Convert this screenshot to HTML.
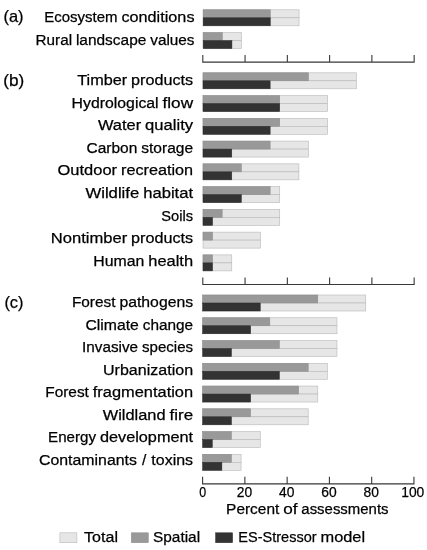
<!DOCTYPE html>
<html lang="en"><head><meta charset="utf-8"><title>Percent of assessments</title>
<style>
html,body{margin:0;padding:0;background:#fff;}
body{width:427px;height:550px;overflow:hidden;}
svg{display:block;}
text{font-family:"Liberation Sans",sans-serif;fill:#000;stroke:#000;stroke-width:0.25px;}
.l{font-size:15.4px;}
.t{font-size:15.4px;}
.s{font-size:16.5px;}
.tot{fill:#e6e6e6;stroke:#b8b8b8;stroke-width:0.6;}
.spa{fill:#999999;stroke:#8a8a8a;stroke-width:0.5;}
.mod{fill:#333333;stroke:#2b2b2b;stroke-width:0.5;}
.ax{fill:none;stroke:#383838;stroke-width:1.1;}
</style></head><body>
<svg width="427" height="550" viewBox="0 0 427 550">
<rect width="427" height="550" fill="#ffffff"/>
<g>
<text class="s" x="3.50" y="22.30" textLength="20.09" lengthAdjust="spacingAndGlyphs">(a)</text>
<text class="l" y="22.20"><tspan x="44.29" textLength="73.24" lengthAdjust="spacingAndGlyphs">Ecosystem</tspan> <tspan x="121.44" textLength="73.06" lengthAdjust="spacingAndGlyphs">conditions</tspan></text>
<rect class="tot" x="203.15" y="9.80" width="95.91" height="8.00"/>
<rect class="tot" x="203.15" y="17.80" width="95.91" height="8.00"/>
<rect class="spa" x="203.15" y="9.80" width="67.14" height="8.00"/>
<rect class="mod" x="203.15" y="17.80" width="67.14" height="8.00"/>
<text class="l" y="44.70"><tspan x="35.62" textLength="36.42" lengthAdjust="spacingAndGlyphs">Rural</tspan> <tspan x="75.95" textLength="70.36" lengthAdjust="spacingAndGlyphs">landscape</tspan> <tspan x="150.22" textLength="44.28" lengthAdjust="spacingAndGlyphs">values</tspan></text>
<rect class="tot" x="203.15" y="32.56" width="38.36" height="8.00"/>
<rect class="tot" x="203.15" y="40.56" width="38.36" height="8.00"/>
<rect class="spa" x="203.15" y="32.56" width="19.18" height="8.00"/>
<rect class="mod" x="203.15" y="40.56" width="28.77" height="8.00"/>
<path class="ax" d="M202.80 55.06V62.16H414.15V55.06M245.07 55.06V62.16M287.34 55.06V62.16M329.61 55.06V62.16M371.88 55.06V62.16"/>
</g>
<g>
<text class="s" x="3.30" y="86.10" textLength="20.95" lengthAdjust="spacingAndGlyphs">(b)</text>
<text class="l" y="84.90"><tspan x="77.22" textLength="49.95" lengthAdjust="spacingAndGlyphs">Timber</tspan> <tspan x="131.08" textLength="62.02" lengthAdjust="spacingAndGlyphs">products</tspan></text>
<rect class="tot" x="203.00" y="72.80" width="153.45" height="8.00"/>
<rect class="tot" x="203.00" y="80.80" width="153.45" height="8.00"/>
<rect class="spa" x="203.00" y="72.80" width="105.50" height="8.00"/>
<rect class="mod" x="203.00" y="80.80" width="67.14" height="8.00"/>
<text class="l" y="107.53"><tspan x="71.60" textLength="87.01" lengthAdjust="spacingAndGlyphs">Hydrological</tspan> <tspan x="162.52" textLength="30.58" lengthAdjust="spacingAndGlyphs">flow</tspan></text>
<rect class="tot" x="203.00" y="95.56" width="124.68" height="8.00"/>
<rect class="tot" x="203.00" y="103.56" width="124.68" height="8.00"/>
<rect class="spa" x="203.00" y="95.56" width="76.73" height="8.00"/>
<rect class="mod" x="203.00" y="103.56" width="76.73" height="8.00"/>
<text class="l" y="130.16"><tspan x="97.99" textLength="43.17" lengthAdjust="spacingAndGlyphs">Water</tspan> <tspan x="145.07" textLength="48.03" lengthAdjust="spacingAndGlyphs">quality</tspan></text>
<rect class="tot" x="203.00" y="118.32" width="124.68" height="8.00"/>
<rect class="tot" x="203.00" y="126.32" width="124.68" height="8.00"/>
<rect class="spa" x="203.00" y="118.32" width="76.73" height="8.00"/>
<rect class="mod" x="203.00" y="126.32" width="67.14" height="8.00"/>
<text class="l" y="152.79"><tspan x="86.45" textLength="50.84" lengthAdjust="spacingAndGlyphs">Carbon</tspan> <tspan x="141.21" textLength="51.89" lengthAdjust="spacingAndGlyphs">storage</tspan></text>
<rect class="tot" x="203.00" y="141.08" width="105.50" height="8.00"/>
<rect class="tot" x="203.00" y="149.08" width="105.50" height="8.00"/>
<rect class="spa" x="203.00" y="141.08" width="67.14" height="8.00"/>
<rect class="mod" x="203.00" y="149.08" width="28.77" height="8.00"/>
<text class="l" y="175.42"><tspan x="57.56" textLength="59.51" lengthAdjust="spacingAndGlyphs">Outdoor</tspan> <tspan x="120.99" textLength="72.11" lengthAdjust="spacingAndGlyphs">recreation</tspan></text>
<rect class="tot" x="203.00" y="163.84" width="95.91" height="8.00"/>
<rect class="tot" x="203.00" y="171.84" width="95.91" height="8.00"/>
<rect class="spa" x="203.00" y="163.84" width="38.36" height="8.00"/>
<rect class="mod" x="203.00" y="171.84" width="28.77" height="8.00"/>
<text class="l" y="198.05"><tspan x="85.43" textLength="53.82" lengthAdjust="spacingAndGlyphs">Wildlife</tspan> <tspan x="143.16" textLength="49.94" lengthAdjust="spacingAndGlyphs">habitat</tspan></text>
<rect class="tot" x="203.00" y="186.60" width="76.73" height="8.00"/>
<rect class="tot" x="203.00" y="194.60" width="76.73" height="8.00"/>
<rect class="spa" x="203.00" y="186.60" width="67.14" height="8.00"/>
<rect class="mod" x="203.00" y="194.60" width="38.36" height="8.00"/>
<text class="l" x="161.32" y="220.68" textLength="31.78" lengthAdjust="spacingAndGlyphs">Soils</text>
<rect class="tot" x="203.00" y="209.36" width="76.73" height="8.00"/>
<rect class="tot" x="203.00" y="217.36" width="76.73" height="8.00"/>
<rect class="spa" x="203.00" y="209.36" width="19.18" height="8.00"/>
<rect class="mod" x="203.00" y="217.36" width="9.59" height="8.00"/>
<text class="l" y="243.31"><tspan x="50.76" textLength="76.41" lengthAdjust="spacingAndGlyphs">Nontimber</tspan> <tspan x="131.08" textLength="62.02" lengthAdjust="spacingAndGlyphs">products</tspan></text>
<rect class="tot" x="203.00" y="232.12" width="57.55" height="8.00"/>
<rect class="tot" x="203.00" y="240.12" width="57.55" height="8.00"/>
<rect class="spa" x="203.00" y="232.12" width="9.59" height="8.00"/>
<text class="l" y="265.94"><tspan x="93.29" textLength="51.06" lengthAdjust="spacingAndGlyphs">Human</tspan> <tspan x="148.26" textLength="44.84" lengthAdjust="spacingAndGlyphs">health</tspan></text>
<rect class="tot" x="203.00" y="254.88" width="28.77" height="8.00"/>
<rect class="tot" x="203.00" y="262.88" width="28.77" height="8.00"/>
<rect class="spa" x="203.00" y="254.88" width="9.59" height="8.00"/>
<rect class="mod" x="203.00" y="262.88" width="9.59" height="8.00"/>
<path class="ax" d="M202.80 277.38V284.48H414.15V277.38M245.07 277.38V284.48M287.34 277.38V284.48M329.61 277.38V284.48M371.88 277.38V284.48"/>
</g>
<g>
<text class="s" x="4.40" y="308.00" textLength="19.05" lengthAdjust="spacingAndGlyphs">(c)</text>
<text class="l" y="307.35"><tspan x="71.89" textLength="43.61" lengthAdjust="spacingAndGlyphs">Forest</tspan> <tspan x="119.41" textLength="73.69" lengthAdjust="spacingAndGlyphs">pathogens</tspan></text>
<rect class="tot" x="202.70" y="295.00" width="163.05" height="8.00"/>
<rect class="tot" x="202.70" y="303.00" width="163.05" height="8.00"/>
<rect class="spa" x="202.70" y="295.00" width="115.09" height="8.00"/>
<rect class="mod" x="202.70" y="303.00" width="57.55" height="8.00"/>
<text class="l" y="329.85"><tspan x="85.47" textLength="53.33" lengthAdjust="spacingAndGlyphs">Climate</tspan> <tspan x="142.71" textLength="50.39" lengthAdjust="spacingAndGlyphs">change</tspan></text>
<rect class="tot" x="202.70" y="317.76" width="134.27" height="8.00"/>
<rect class="tot" x="202.70" y="325.76" width="134.27" height="8.00"/>
<rect class="spa" x="202.70" y="317.76" width="67.14" height="8.00"/>
<rect class="mod" x="202.70" y="325.76" width="47.95" height="8.00"/>
<text class="l" y="352.35"><tspan x="82.07" textLength="56.00" lengthAdjust="spacingAndGlyphs">Invasive</tspan> <tspan x="141.98" textLength="51.12" lengthAdjust="spacingAndGlyphs">species</tspan></text>
<rect class="tot" x="202.70" y="340.52" width="134.27" height="8.00"/>
<rect class="tot" x="202.70" y="348.52" width="134.27" height="8.00"/>
<rect class="spa" x="202.70" y="340.52" width="76.73" height="8.00"/>
<rect class="mod" x="202.70" y="348.52" width="28.77" height="8.00"/>
<text class="l" x="103.01" y="374.85" textLength="90.09" lengthAdjust="spacingAndGlyphs">Urbanization</text>
<rect class="tot" x="202.70" y="363.28" width="124.68" height="8.00"/>
<rect class="tot" x="202.70" y="371.28" width="124.68" height="8.00"/>
<rect class="spa" x="202.70" y="363.28" width="105.50" height="8.00"/>
<rect class="mod" x="202.70" y="371.28" width="76.73" height="8.00"/>
<text class="l" y="397.35"><tspan x="45.27" textLength="43.61" lengthAdjust="spacingAndGlyphs">Forest</tspan> <tspan x="92.80" textLength="100.30" lengthAdjust="spacingAndGlyphs">fragmentation</tspan></text>
<rect class="tot" x="202.70" y="386.04" width="115.09" height="8.00"/>
<rect class="tot" x="202.70" y="394.04" width="115.09" height="8.00"/>
<rect class="spa" x="202.70" y="386.04" width="95.91" height="8.00"/>
<rect class="mod" x="202.70" y="394.04" width="47.95" height="8.00"/>
<text class="l" y="419.85"><tspan x="102.76" textLength="62.86" lengthAdjust="spacingAndGlyphs">Wildland</tspan> <tspan x="169.53" textLength="23.57" lengthAdjust="spacingAndGlyphs">fire</tspan></text>
<rect class="tot" x="202.70" y="408.80" width="105.50" height="8.00"/>
<rect class="tot" x="202.70" y="416.80" width="105.50" height="8.00"/>
<rect class="spa" x="202.70" y="408.80" width="47.95" height="8.00"/>
<rect class="mod" x="202.70" y="416.80" width="28.77" height="8.00"/>
<text class="l" y="442.35"><tspan x="48.08" textLength="47.91" lengthAdjust="spacingAndGlyphs">Energy</tspan> <tspan x="99.90" textLength="93.20" lengthAdjust="spacingAndGlyphs">development</tspan></text>
<rect class="tot" x="202.70" y="431.56" width="57.55" height="8.00"/>
<rect class="tot" x="202.70" y="439.56" width="57.55" height="8.00"/>
<rect class="spa" x="202.70" y="431.56" width="28.77" height="8.00"/>
<rect class="mod" x="202.70" y="439.56" width="9.59" height="8.00"/>
<text class="l" y="464.85"><tspan x="39.06" textLength="97.80" lengthAdjust="spacingAndGlyphs">Contaminants</tspan> <tspan x="141.98">/</tspan> <tspan x="151.37" textLength="41.73" lengthAdjust="spacingAndGlyphs">toxins</tspan></text>
<rect class="tot" x="202.70" y="454.32" width="38.36" height="8.00"/>
<rect class="tot" x="202.70" y="462.32" width="38.36" height="8.00"/>
<rect class="spa" x="202.70" y="454.32" width="28.77" height="8.00"/>
<rect class="mod" x="202.70" y="462.32" width="19.18" height="8.00"/>
<path class="ax" d="M202.60 476.82V483.92H413.95V476.82M244.87 476.82V483.92M287.14 476.82V483.92M329.41 476.82V483.92M371.68 476.82V483.92"/>
</g>
<text class="t" x="199.13" y="497.20" textLength="6.93" lengthAdjust="spacingAndGlyphs">0</text>
<text class="t" x="236.77" y="497.20" textLength="15.41" lengthAdjust="spacingAndGlyphs">20</text>
<text class="t" x="279.04" y="497.20" textLength="15.41" lengthAdjust="spacingAndGlyphs">40</text>
<text class="t" x="321.31" y="497.20" textLength="15.41" lengthAdjust="spacingAndGlyphs">60</text>
<text class="t" x="363.58" y="497.20" textLength="15.41" lengthAdjust="spacingAndGlyphs">80</text>
<text class="t" x="401.19" y="497.20" textLength="23.11" lengthAdjust="spacingAndGlyphs">100</text>
<text class="l" y="514.20"><tspan x="226.10" textLength="53.19" lengthAdjust="spacingAndGlyphs">Percent</tspan> <tspan x="283.17" textLength="14.29" lengthAdjust="spacingAndGlyphs">of</tspan> <tspan x="301.33" textLength="87.17" lengthAdjust="spacingAndGlyphs">assessments</tspan></text>
<rect class="tot" x="59.9" y="532.80" width="17.0" height="9.90"/>
<text class="l" x="84.10" y="542.30" textLength="33.86" lengthAdjust="spacingAndGlyphs">Total</text>
<rect class="spa" x="131.3" y="532.80" width="17.0" height="9.90"/>
<text class="l" x="153.00" y="542.30" textLength="47.06" lengthAdjust="spacingAndGlyphs">Spatial</text>
<rect class="mod" x="215.6" y="532.80" width="17.0" height="9.90"/>
<text class="l" y="542.30"><tspan x="238.30" textLength="78.29" lengthAdjust="spacingAndGlyphs">ES-Stressor</tspan> <tspan x="320.50" textLength="44.61" lengthAdjust="spacingAndGlyphs">model</tspan></text>
</svg></body></html>
